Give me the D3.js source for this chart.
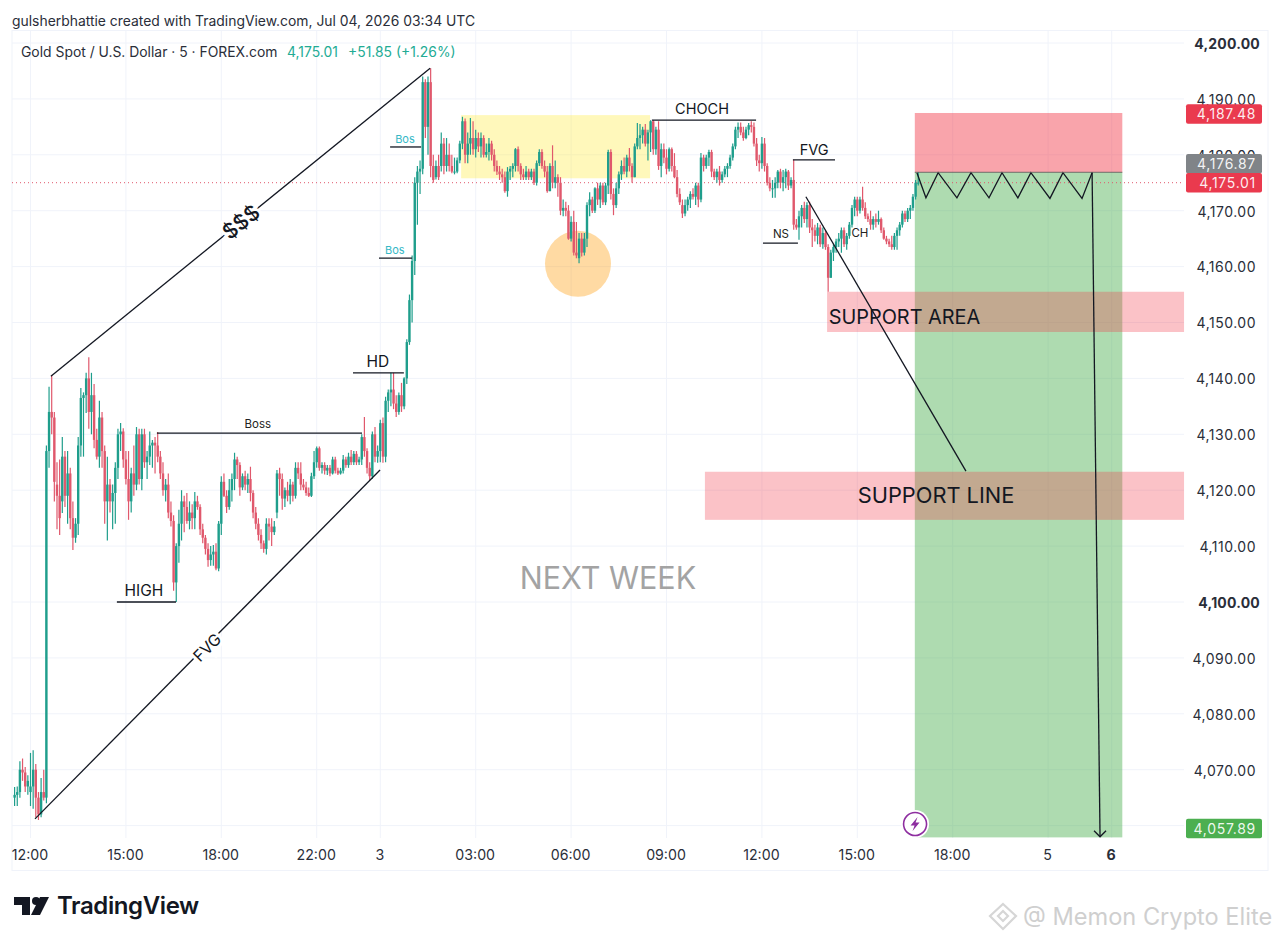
<!DOCTYPE html>
<html>
<head>
<meta charset="utf-8">
<style>
  html, body { margin: 0; padding: 0; background: #fff; }
  text { font-family: Inter, "Noto Sans", sans-serif; }
</style>
<script src="https://cdnjs.cloudflare.com/ajax/libs/d3/7.8.5/d3.min.js"></script>
</head>
<body>
<div id="chart"></div>
<script>
// [open, high, low, close], one row per 5 minute bar
const barsOpening = [
  [4065,4066.9,4063.5,4065.5],[4065.5,4067,4063.5,4066],[4066,4071.5,4065,4070],[4070,4072,4068,4069.5],[4069.5,4070.5,4066,4067],[4067,4069,4065.5,4068]
];
const barsFrom1200 = [
  [4066,4073,4063.5,4067],[4067,4073.5,4063,4070],[4070,4071,4061.5,4065],[4065,4066,4061,4062],[4062,4068.5,4061.5,4066],[4066,4070,4064.5,4065],
  [4065,4128,4064,4127],[4127,4138.5,4124,4134],[4134,4140.6,4130,4133],[4133,4134,4118,4121.5],[4121,4125,4113,4119],[4119,4125.5,4112,4115],
  [4118,4129.5,4115.9,4126],[4126,4127,4117,4119],[4119,4127,4114,4123],[4123,4124,4113,4115],[4115,4118,4109.3,4111.5],[4111.5,4115,4110.6,4114],
  [4114,4129.5,4112,4128],[4128,4138.3,4126,4136.5],[4136.5,4137.5,4126,4137],[4137,4141,4133.8,4140],[4140,4143.8,4131,4134],[4134,4141,4130,4137],
  [4137,4139,4127.5,4129],[4129,4131,4125.5,4126],[4126,4136,4124,4133],[4133,4134,4124,4127],[4127,4128,4114,4118],[4118,4126,4111,4121],
  [4121,4122,4116,4118],[4118,4121,4113,4119.5],[4119.5,4125,4114,4124],[4124,4131,4122,4130],[4130,4132,4127,4130.5],[4130.5,4131.1,4124,4125.5]
];
const barsFrom1500 = [
  [4125.5,4127,4121,4122],[4122,4127,4114.7,4118],[4118,4124,4116,4123],[4123,4128,4119,4121],[4121,4131.3,4120,4130],[4130,4131,4121,4122],
  [4122,4131,4120,4130],[4130,4131,4124,4125],[4125,4127,4122,4126],[4126,4130.5,4124.5,4128],[4128,4129,4124,4128.5],[4128.5,4129.5,4123,4128],
  [4128,4130.4,4125,4126],[4126,4127,4122,4123],[4123,4125,4119,4120],[4120,4122,4118,4121],[4121,4123,4115,4116],[4116,4118,4113.5,4114.5],
  [4114.5,4115.5,4102,4103.5],[4103.5,4110.5,4100,4110],[4110,4116.5,4107,4114],[4114,4120,4111,4118],[4118,4119,4112.5,4117],[4117,4119.5,4114,4114.5],
  [4114.5,4118,4113,4116],[4116,4117.5,4113,4115],[4115,4119.7,4113,4118],[4118,4119,4116.5,4117],[4117,4117.5,4112,4113],[4113,4114,4110.5,4111.5],
  [4111.5,4112,4108.5,4109.5],[4109.5,4110.5,4106.3,4107.5],[4107.5,4110,4106.5,4108.5],[4108.5,4110.2,4106.5,4109],[4109,4110.5,4105.7,4106],[4106,4114.5,4105.5,4114]
];
const barsFrom1800 = [
  [4114,4122.5,4112,4121.5],[4121.5,4123,4118.8,4119],[4119,4120,4115.9,4117],[4117,4122,4116.5,4120],[4120,4123,4118,4122],[4122,4126.7,4120,4125.5],
  [4125.5,4126,4122,4124.5],[4124.5,4125,4119,4120.5],[4120.5,4123,4120,4122.5],[4122.5,4123.5,4120,4121],[4121,4123,4119.5,4122],[4122,4124.2,4118,4119.5],
  [4119.5,4120,4115,4116],[4116,4117,4113,4114],[4114,4115,4111,4112],[4112,4113,4109.5,4110.5],[4110.5,4111,4108.8,4109.5],[4109.5,4115,4108.5,4114],
  [4114,4115,4111,4113.5],[4113.5,4115,4110,4112.5],[4112.5,4114.5,4112,4113.5],[4116,4123.6,4115,4123],[4123,4124,4119,4122],[4122,4123,4116.5,4118.5],
  [4118.5,4120.5,4117,4120],[4120,4121.5,4118,4119],[4119,4122,4117.5,4121],[4121,4121.5,4118,4119],[4119,4125,4118.5,4124],[4124,4125,4122,4123],
  [4123,4125,4120,4121],[4121,4122,4120,4120.5],[4120.5,4121.5,4119,4119.5],[4119.5,4120.5,4118.8,4119],[4119,4123.1,4118.8,4122.5],[4122.5,4127,4122,4125]
];
const barsFrom2200 = [
  [4125,4127.8,4124,4127.5],[4127.5,4127.8,4123.5,4124],[4124,4125,4123,4124.5],[4124.5,4125,4122.8,4123.5],[4123.5,4124.5,4122.7,4124],[4124,4124.5,4122.5,4123],
  [4123,4126,4122.8,4125.5],[4125.5,4126,4123,4123.5],[4123.5,4124,4122.7,4123],[4123,4124,4122.8,4123.5],[4123.5,4126.3,4123,4125.5],[4125.5,4126,4124,4124.5],
  [4124.5,4126.7,4124,4126],[4126,4127.2,4124.5,4125],[4125,4127,4124.5,4126.5],[4126.5,4127,4124.5,4125],[4125,4126,4124.5,4125.5],[4125.5,4130,4124.5,4129.5],
  [4129.5,4133.1,4126,4127],[4127,4127.5,4123,4124],[4124,4125,4121.8,4122.5],[4122.5,4130.5,4122,4130],[4130,4131.3,4125,4126],[4126,4128,4124.9,4127]
];
const barsFromMidnight = [
  [4127,4132.6,4125,4132],[4132,4133,4124.9,4126],[4126,4136.7,4125,4136],[4136,4138,4134,4137.5],[4137.5,4141,4135,4138],[4138,4141,4134.5,4135.5],
  [4135.5,4137,4133.1,4134],[4134,4137.5,4133.5,4137],[4137,4139.2,4134,4135],[4135,4140.2,4134.5,4140],[4140,4147,4139,4146.5],[4146.5,4155,4146,4154],
  [4154,4162,4150,4161],[4161,4176,4158.5,4175],[4175,4178,4167.5,4177],[4177,4179,4173,4177.5],[4177.5,4194,4176.5,4193],[4193,4193.5,4183,4185],
  [4185,4194,4180,4193],[4193,4195.5,4176,4178],[4178,4180,4175,4175.5],[4176,4179,4175.6,4178],[4178,4180,4175.5,4176],[4178,4184,4177,4182],
  [4182,4183,4176.5,4178],[4178,4183,4177,4180],[4180,4182,4177,4178],[4178,4180,4176.7,4177],[4177,4179.5,4176.5,4177],[4177,4179.5,4176.7,4179],
  [4179,4182.5,4178.5,4182],[4182,4186.8,4181,4186],[4186,4186.5,4178.5,4180],[4180,4184,4178.5,4182],[4182,4186.6,4180,4183],[4183,4186,4180,4181]
];
const barsFrom0300 = [
  [4181,4184.5,4179.5,4183],[4183,4184,4180.5,4181.5],[4181.5,4184,4179.5,4183],[4183,4183.5,4179.5,4180],[4180,4182,4179.5,4180.5],[4180.5,4183,4179,4182],
  [4182,4182.5,4179,4180],[4180,4181,4177,4178],[4178,4179,4176.4,4177],[4177,4178,4175.5,4176.5],[4176.5,4177.5,4175,4176],[4176,4177,4173.2,4173.5],
  [4173.5,4177.8,4172.5,4177],[4177,4178,4175.5,4177.5],[4177.5,4178.5,4176,4178],[4178,4181.2,4177,4181],[4181,4181.5,4177,4178],[4178,4178.5,4175.5,4176.5],
  [4176.5,4177.5,4175.5,4176],[4176,4178,4175.5,4177],[4177,4177.5,4175.5,4176],[4176,4177.5,4175.5,4177],[4177,4177.5,4174.6,4175],[4175,4179,4174.5,4178.5],
  [4178.5,4181,4178,4180.5],[4180.5,4181,4177.5,4178],[4178,4179,4176,4177],[4177,4178,4173.2,4173.5],[4173.5,4178.5,4173.5,4178],[4178,4181.7,4174,4175],
  [4175,4179,4174,4176],[4176,4176.5,4172.5,4175],[4175,4176,4169.2,4170],[4170,4172,4169,4170.5],[4170.5,4171.6,4169,4170],[4170,4171,4164.8,4165]
];
const barsFrom0600 = [
  [4165,4169,4164.5,4168],[4168,4170,4162,4162.5],[4162.5,4168,4161.5,4162],[4161.5,4166,4160.6,4165],[4165,4166,4161.8,4162.5],[4162.5,4166,4162,4165],
  [4165,4171.5,4163.5,4171],[4171,4173.3,4169,4172],[4172,4172.5,4169.6,4170],[4170,4174.2,4169.6,4174],[4174,4175,4171,4172],[4172,4175,4170.5,4174.5],
  [4174.5,4175,4171,4171.5],[4171.5,4175,4171,4174.5],[4174.5,4180.9,4173,4180.5],[4180.5,4181,4172,4173],[4173,4174,4169.2,4171],[4171,4175,4170.5,4174],
  [4174,4177,4173,4176.5],[4176.5,4179,4175.5,4178],[4178,4179.5,4176.5,4177],[4177,4180,4176,4179.5],[4179.5,4181.2,4177,4178],[4178,4178.5,4175,4176],
  [4176,4182,4176,4181.5],[4181.5,4185.7,4181,4183],[4183,4185.5,4181,4183.5],[4183.5,4185,4182,4184.5],[4184.5,4185.5,4181.5,4182],[4182,4184.5,4179,4184],
  [4184,4186.2,4180.5,4186],[4186,4186.2,4180,4181],[4181,4185,4180,4184.5],[4184.5,4186,4177.3,4178],[4178,4182,4176,4181],[4181,4182,4178.5,4179.5]
];
const barsFrom0900 = [
  [4179.5,4181,4176.5,4177.5],[4177.5,4181.3,4177,4181],[4181,4181.3,4177,4178],[4178,4180.3,4175.8,4176],[4176,4177.3,4172.4,4173],[4173,4174,4171,4171.5],
  [4171,4172,4168.7,4169.5],[4169.5,4172,4169,4171],[4171,4172.5,4170,4172],[4172,4173.5,4170.5,4173],[4173,4174,4172,4172.5],[4172.5,4175,4171,4174.5],
  [4174.5,4175,4170.6,4172],[4172,4180.3,4171.5,4179.5],[4179.5,4180,4177,4178],[4178,4180,4177.5,4179.5],[4179.5,4180.9,4178,4180.5],[4180.5,4180.9,4176,4177],
  [4177,4177.5,4175.5,4176],[4176,4177.5,4175,4177],[4177,4178,4174.5,4175.5],[4175.5,4177,4175,4176.5],[4176.5,4178,4176,4177.5],[4177.5,4178.5,4176,4178],
  [4178,4180,4177.5,4179.5],[4179.5,4182,4179,4181.5],[4181.5,4185,4181,4184.5],[4184.5,4185.8,4183,4185],[4185,4185.8,4183.5,4184],[4184,4185,4182.5,4183],
  [4183,4185,4182.8,4184.5],[4184.5,4185.7,4183.5,4185.3],[4185.3,4186,4184,4185],[4185,4185.8,4181.5,4182],[4182,4183,4178,4179],[4179,4180,4177,4178.5]
];
const barsFrom1200b = [
  [4178.5,4183.2,4177.5,4182],[4182,4183,4177,4178],[4178,4178.5,4174.5,4175],[4175,4176,4173.5,4174],[4174,4175.5,4172.3,4174],[4174,4176,4172.3,4175],
  [4175,4177.3,4174,4177],[4177,4177.5,4174,4175],[4175,4177.3,4173.5,4176],[4176,4177.5,4174,4177],[4177,4177.3,4173.7,4174.5],[4174.5,4176,4174,4175.5],
  [4175.5,4179.1,4166.6,4167.5],[4167.5,4168.5,4166.6,4167],[4167,4170,4164.8,4169],[4169,4171,4167,4170.5],[4170.5,4171.6,4167.8,4168.5],[4168.5,4171.5,4167,4171],
  [4171,4171.6,4166,4167],[4167,4168.5,4163.5,4166.5],[4166.5,4167.5,4164.5,4165.5],[4165.5,4167.8,4164,4167],[4167,4167.5,4163.5,4164],[4164,4167,4163.2,4166],
  [4166,4166.6,4163,4163.5],[4163.5,4164,4155.5,4158],[4158,4163,4158,4162.5],[4162.5,4164,4161,4163.5],[4163.5,4165,4162.5,4164.5],[4164.5,4166,4163.5,4165],
  [4165,4167,4162.5,4166.5],[4166.5,4167,4163.5,4164],[4164,4166,4163,4165.5],[4165.5,4168,4165,4167.5],[4167.5,4171,4167,4170.5],[4170.5,4172.5,4169,4172]
];
const barsFrom1500b = [
  [4172,4172.5,4169,4170],[4170,4172.5,4169.5,4172],[4172,4174.3,4170,4170.5],[4170.5,4171.5,4168.5,4169],[4169,4169.5,4168,4168.5],[4168.5,4170,4166.6,4167.5],
  [4167.5,4169,4166.6,4168.5],[4168.5,4169.5,4167,4168],[4168,4170,4167.5,4168.5],[4168.5,4168.8,4166,4166.5],[4166.5,4167,4164.8,4165],[4165,4165.5,4164,4164.5],
  [4164.5,4165,4163.5,4164],[4164,4165.5,4163,4163.5],[4163.5,4166,4163,4165.5],[4165.5,4167,4163,4166.5],[4166.5,4168,4165.5,4167.5],[4167.5,4170,4167,4169.5],
  [4169.5,4170,4168,4168.5],[4168.5,4170.5,4168,4170],[4170,4171,4168.5,4170.5],[4170.5,4173,4170,4172.5],[4172.5,4175.5,4172,4175],[4175,4176.9,4174.5,4175.01]
];

const priceTicks = [4200,4190,4180,4170,4160,4150,4140,4130,4120,4110,4100,4090,4080,4070];
const gridPrices = priceTicks.concat([4060]);
const boldPrices = [4200,4100];
const timeBars = [6,42,78,114,138,174,210,246,282,318,354,390,414];
const timeLabels = ["12:00","15:00","18:00","22:00","3","03:00","06:00","09:00","12:00","15:00","18:00","5","6"];

// current and position levels
const lastPrice = 4175.01;
const stopPrice = 4187.48;
const entryPrice = 4176.87;
const targetPrice = 4057.89;

// drawing tools, in bar index and price: [bar1, price1, bar2, price2]
const trendLines = [
  [13.7,4140.4,156.8,4195.5],
  [7.7,4061.2,137.9,4123.6],
  [38.6,4100,60.9,4100],
  [53.7,4130.2,131.1,4130.2],
  [127.7,4141,146.9,4141],
  [141.7,4181.4,153.4,4181.4],
  [137.5,4161.5,150,4161.5],
  [240.5,4186.2,279.8,4186.2],
  [293.7,4179.1,309.6,4179.1],
  [282.4,4164.2,295.6,4164.2],
  [298.6,4172.5,359,4123.4]
];
const zigzagBars = [340.5,343.9,348.5,355.6,360.9,367.7,372.6,378.6,383.5,390.7,395.6,402.8,406.6];
const zigzagPrices = [4176.8,4172.3,4176.8,4172.3,4176.8,4172.3,4176.8,4172.3,4176.8,4172.2,4176.8,4172.2,4176.8];
const arrowLine = [406.6,4176.87,409.6,4058];

// [bar1, bar2, price1, price2]
const riskBox = [339.7,418,stopPrice,entryPrice];
const rewardBox = [339.7,418,entryPrice,targetPrice];
const yellowBox = [168.5,239.8,4187.1,4175.8];
const supportAreaBox = [306.6,441.3,4155.5,4148.3];
const supportLineBox = [260.5,441.3,4123.3,4114.7];
const circleCentre = [212.6,4160.5];

const labels = [
  ["HIGH",48.8,4102.1,"mid"],["Boss",91.8,4131.8,"small"],["HD",137.1,4143.1,"mid"],
  ["Bos",147.3,4182.8,"cyan"],["Bos",143.5,4163,"cyan"],["CHOCH",259.4,4188.2,"mid14"],
  ["FVG",301.7,4180.9,"mid14"],["NS",289.2,4165.8,"small"],["CH",319,4166,"small"],
  ["NEXT WEEK",223.9,4104.3,"big"],["SUPPORT AREA",335.8,4150.9,"area"],["SUPPORT LINE",347.7,4119.1,"large"]
];
const labelStyles = {
  small: { size: 11.5, fill: "#222" },
  cyan: { size: 11, fill: "#35b8c6" },
  mid14: { size: 14.5, fill: "#131722" },
  mid: { size: 15.5, fill: "#131722" },
  area: { size: 19.9, fill: "#131722" },
  large: { size: 21.8, fill: "#131722" },
  big: { size: 30.5, fill: "#a3a3a3" }
};

const bars = [].concat(barsOpening, barsFrom1200, barsFrom1500, barsFrom1800, barsFrom2200,
  barsFromMidnight, barsFrom0300, barsFrom0600, barsFrom0900, barsFrom1200b, barsFrom1500b);

const width = 1280, height = 941;
const paneLeft = 12, paneRight = 1184, paneBottom = 838;
const upColor = "#1f9e8c", downColor = "#e0586c";

const x = d3.scaleLinear().domain([0, 414]).range([14.6, 1111.7]);
const y = d3.scaleLinear().domain([4100, 4200]).range([602, 43]);

const svg = d3.select("#chart").append("svg")
  .attr("width", width).attr("height", height)
  .style("display", "block");

// outer frame
svg.append("rect")
  .attr("x", 12).attr("y", 30.5).attr("width", 1256).attr("height", 840)
  .attr("fill", "none").attr("stroke", "#f0f3fa");

// grid
svg.append("g").selectAll("line").data(gridPrices).join("line")
  .attr("x1", paneLeft).attr("x2", paneRight)
  .attr("y1", d => y(d)).attr("y2", d => y(d))
  .attr("stroke", "#f0f3fa");
svg.append("g").selectAll("line").data(timeBars).join("line")
  .attr("x1", d => x(d)).attr("x2", d => x(d))
  .attr("y1", 31).attr("y2", paneBottom)
  .attr("stroke", "#f0f3fa");

// boxes under the candles
const boxes = [
  { b: yellowBox, fill: "#ffeb3b", op: 0.35 },
  { b: riskBox, fill: "#f23645", op: 0.45 },
  { b: rewardBox, fill: "#4caf50", op: 0.45 },
  { b: supportAreaBox, fill: "#f23645", op: 0.3 },
  { b: supportLineBox, fill: "#f23645", op: 0.3 }
];
svg.append("g").selectAll("rect").data(boxes).join("rect")
  .attr("x", d => x(d.b[0])).attr("width", d => x(d.b[1]) - x(d.b[0]))
  .attr("y", d => y(d.b[2])).attr("height", d => y(d.b[3]) - y(d.b[2]))
  .attr("fill", d => d.fill).attr("fill-opacity", d => d.op);
svg.append("circle")
  .attr("cx", x(circleCentre[0])).attr("cy", y(circleCentre[1])).attr("r", 33)
  .attr("fill", "#ff9800").attr("fill-opacity", 0.36);

// last price line
svg.append("line")
  .attr("x1", paneLeft).attr("x2", paneRight)
  .attr("y1", y(lastPrice)).attr("y2", y(lastPrice))
  .attr("stroke", "#e0586c").attr("stroke-dasharray", "1 3");

// candles
const candle = svg.append("g").selectAll("g").data(bars).join("g")
  .attr("stroke", d => d[3] >= d[0] ? upColor : downColor)
  .attr("fill", d => d[3] >= d[0] ? upColor : downColor);
candle.append("line")
  .attr("x1", (d, i) => x(i)).attr("x2", (d, i) => x(i))
  .attr("y1", d => y(d[1])).attr("y2", d => y(d[2]))
  .attr("stroke-width", 1.2);
candle.append("rect")
  .attr("x", (d, i) => x(i) - 1.2).attr("width", 2.4)
  .attr("y", d => y(Math.max(d[0], d[3])))
  .attr("height", d => Math.max(1, Math.abs(y(d[0]) - y(d[3]))))
  .attr("stroke", "none");

// drawings
const drawings = svg.append("g").attr("stroke", "#131722").attr("stroke-width", 1.3).attr("fill", "none");
drawings.selectAll("line").data(trendLines).join("line")
  .attr("x1", d => x(d[0])).attr("y1", d => y(d[1]))
  .attr("x2", d => x(d[2])).attr("y2", d => y(d[3]));
const zigzag = d3.line().x(d => x(d)).y((d, i) => y(zigzagPrices[i]));
drawings.append("path").attr("d", zigzag(zigzagBars));
drawings.append("line")
  .attr("x1", x(arrowLine[0])).attr("y1", y(arrowLine[1]))
  .attr("x2", x(arrowLine[2])).attr("y2", y(arrowLine[3]));
const tipX = x(arrowLine[2]), tipY = y(arrowLine[3]);
drawings.append("path")
  .attr("d", `M${tipX - 6},${tipY - 6}L${tipX},${tipY}L${tipX + 6},${tipY - 6}`);
drawings.append("line")
  .attr("x1", x(riskBox[0])).attr("x2", x(riskBox[1]))
  .attr("y1", y(entryPrice)).attr("y2", y(entryPrice))
  .attr("stroke-width", 0.8).attr("stroke", "#555");

// labels sitting on the slanted lines, white halo cuts the line
svg.append("text")
  .attr("transform", `translate(${x(85.4)},${y(4168)}) rotate(-39)`)
  .attr("text-anchor", "middle").attr("dominant-baseline", "central")
  .attr("font-size", 21).attr("font-weight", 500).attr("fill", "#131722")
  .attr("stroke", "#fff").attr("stroke-width", 6).attr("paint-order", "stroke")
  .text("$$$");
svg.append("text")
  .attr("transform", `translate(${x(72.6)},${y(4091.9)}) rotate(-45)`)
  .attr("text-anchor", "middle").attr("dominant-baseline", "central")
  .attr("font-size", 16).attr("fill", "#131722")
  .attr("stroke", "#fff").attr("stroke-width", 6).attr("paint-order", "stroke")
  .text("FVG");

svg.append("g").selectAll("text").data(labels).join("text")
  .attr("x", d => x(d[1])).attr("y", d => y(d[2]))
  .attr("text-anchor", "middle").attr("dominant-baseline", "central")
  .attr("font-size", d => labelStyles[d[3]].size)
  .attr("fill", d => labelStyles[d[3]].fill)
  .text(d => d[0]);

// price axis
const priceAxis = svg.append("g")
  .attr("transform", `translate(${paneRight},0)`)
  .call(d3.axisRight(y).tickValues(priceTicks).tickSize(0).tickPadding(0).tickFormat(d3.format(",.2f")));
priceAxis.select(".domain").remove();
priceAxis.selectAll("text")
  .attr("x", d => boldPrices.includes(d) ? 76 : 72).attr("text-anchor", "end")
  .attr("dy", "0.38em")
  .attr("font-family", "Inter, sans-serif")
  .attr("font-size", 14)
  .attr("letter-spacing", d => boldPrices.includes(d) ? 0.2 : 0.5)
  .attr("fill", "#2a2e39")
  .attr("font-weight", d => boldPrices.includes(d) ? 700 : 400);

// time axis
const timeAxis = svg.append("g")
  .attr("transform", `translate(-1,${paneBottom})`)
  .call(d3.axisBottom(x).tickValues(timeBars).tickSize(0).tickPadding(12)
    .tickFormat((d, i) => timeLabels[i]));
timeAxis.select(".domain").remove();
timeAxis.selectAll("text")
  .attr("font-family", "Inter, sans-serif")
  .attr("font-size", 14.2).attr("fill", "#2a2e39")
  .attr("font-weight", d => d === 414 ? 700 : 400);

// price badges
const badges = [
  { p: stopPrice, fill: "#ea3a4e" },
  { p: entryPrice, fill: "#808488" },
  { p: lastPrice, fill: "#ea3a4e" },
  { p: targetPrice, fill: "#4caf50", clampY: 828.5 }
];
const badge = svg.append("g").selectAll("g").data(badges).join("g")
  .attr("transform", d => `translate(1186,${d.clampY || (d.p === entryPrice ? y(d.p) - 8.5 : y(d.p) + (d.p === stopPrice ? 1 : 0))})`);
badge.append("rect")
  .attr("y", -9.8).attr("width", 76).attr("height", 19.6).attr("rx", 2)
  .attr("fill", d => d.fill);
badge.append("text")
  .attr("x", 70).attr("text-anchor", "end").attr("dominant-baseline", "central")
  .attr("font-size", 14).attr("letter-spacing", 0.7).attr("fill", "#fff").attr("fill-opacity", 0.92)
  .text(d => d3.format(",.2f")(d.p));

// header
svg.append("text").attr("x", 12).attr("y", 26)
  .attr("font-size", 13.9).attr("fill", "#2a2e39")
  .text("gulsherbhattie created with TradingView.com, Jul 04, 2026 03:34 UTC");
svg.append("text").attr("x", 21).attr("y", 57)
  .attr("font-size", 13.9).attr("fill", "#2a2e39")
  .text("Gold Spot / U.S. Dollar · 5 · FOREX.com");
svg.append("text").attr("x", 287).attr("y", 57)
  .attr("font-size", 13.9).attr("fill", "#22ab94")
  .text("4,175.01");
svg.append("text").attr("x", 348).attr("y", 57)
  .attr("font-size", 13.9).attr("fill", "#22ab94")
  .text("+51.85 (+1.26%)");

// ideas marker
const marker = svg.append("g").attr("transform", `translate(${x(339.8)},824)`);
marker.append("circle").attr("r", 14).attr("fill", "#fff");
marker.append("circle").attr("r", 11.5).attr("fill", "#fff").attr("stroke", "#8e2ea0").attr("stroke-width", 1.6);
marker.append("path").attr("d", "M2.5,-7L-4.5,1.5H-0.5L-2.5,7L4.5,-1.5H0.5Z").attr("fill", "#8e2ea0");

// TradingView logo
const logo = svg.append("g").attr("fill", "#131722");
logo.append("path").attr("d", "M14,897H30V915H22V905H14Z");
logo.append("circle").attr("cx", 36).attr("cy", 901).attr("r", 4);
logo.append("path").attr("d", "M40,897H49L40,915H31Z");
logo.append("text").attr("x", 57).attr("y", 914)
  .attr("font-size", 24).attr("font-weight", 600).attr("letter-spacing", -0.4)
  .text("TradingView");

// watermark
const mark = svg.append("g").attr("fill", "none").attr("stroke", "#d6d6d6").attr("stroke-width", 2.2);
mark.append("path").attr("d", "M1003,904L1016,916L1003,929L990,916Z");
mark.append("path").attr("d", "M1003,911L1008,916L1003,921L998,916Z");
svg.append("text").attr("x", 1023).attr("y", 925)
  .attr("font-family", "Open Sans").attr("font-size", 23.6).attr("fill", "#cfcfcf")
  .text("@ Memon Crypto Elite");
</script>
</body>
</html>
